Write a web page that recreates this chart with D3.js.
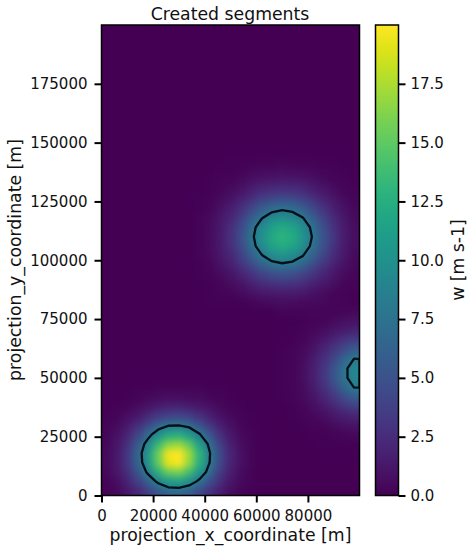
<!DOCTYPE html>
<html>
<head>
<meta charset="utf-8">
<script src="https://cdn.jsdelivr.net/npm/d3@7/dist/d3.min.js"></script>
<style>
  html, body { margin: 0; background: #fff; }
  text { font-family: "DejaVu Sans", sans-serif; fill: #111; }
</style>
</head>
<body>
<svg id="chart" width="474" height="552"></svg>
<script>
// cell centres of the w field, in metres
var xCells = [2000,6000,10000,14000,18000,22000,26000,30000,34000,38000,42000,46000,50000,54000,58000,62000,66000,70000,74000,78000,82000,86000,90000,94000,98000];
var yCells = [2000,6000,10000,14000,18000,22000,26000,30000,34000,38000,42000,46000,50000,54000,58000,62000,66000,70000,74000,78000,82000,86000,90000,94000,98000,102000,106000,110000,114000,118000,122000,126000,130000,134000,138000,142000];

// w [m s-1], one row per yCells entry, above these it is 0
var wRows = [
  [.2,.4,1.1,2.1,3.6,5.2,6.4,6.6,5.8,4.3,2.7,1.5,.7,.3,.1,0,0,0,0,0,0,0,0,0,0],
  [.3,.7,1.8,3.6,6.0,8.7,10.7,11.1,9.7,7.3,4.6,2.5,1.1,.4,.2,0,0,0,0,0,0,0,0,0,0],
  [.4,1.1,2.5,5.1,8.6,12.5,15.3,15.8,13.9,10.4,6.6,3.5,1.6,.6,.2,0,0,0,0,0,0,0,0,0,0],
  [.5,1.3,3.1,6.1,10.4,15.1,19.2,19.9,16.8,12.6,7.9,4.3,1.9,.8,.3,0,0,0,0,0,0,0,0,0,0],
  [.5,1.3,3.1,6.3,10.7,15.4,19.6,20.0,17.2,12.9,8.1,4.4,2.0,.8,.3,0,0,0,0,0,0,0,0,0,0],
  [.4,1.1,2.7,5.5,9.3,13.4,16.4,17.0,15.0,11.2,7.1,3.8,1.7,.7,.3,0,0,0,0,0,0,.1,.1,.1,.1],
  [.3,.8,2.0,4.0,6.8,9.9,12.1,12.6,11.0,8.2,5.2,2.8,1.3,.5,.2,0,0,0,0,0,.1,.1,.2,.3,.4],
  [.2,.5,1.3,2.5,4.3,6.2,7.6,7.8,6.9,5.1,3.2,1.7,.8,.3,.1,0,0,0,0,.1,.2,.3,.6,.8,1.0],
  [.1,.3,.7,1.3,2.3,3.3,4.0,4.2,3.7,2.7,1.7,.9,.4,.2,.1,0,0,0,.1,.2,.4,.7,1.2,1.6,2.0],
  [0,.1,.3,.6,1.0,1.5,1.8,1.9,1.6,1.2,.8,.4,.2,.1,0,0,0,0,.1,.3,.7,1.3,2.1,3.0,3.6],
  [0,0,.1,.2,.4,.6,.7,.7,.6,.5,.3,.2,.1,0,0,0,0,.1,.2,.5,1.0,2.0,3.2,4.6,5.8],
  [0,0,0,.1,.1,.2,.2,.2,.2,.2,.1,.1,0,0,0,0,0,.1,.3,.6,1.4,2.6,4.3,6.4,8.1],
  [0,0,0,0,0,0,0,0,0,0,0,0,0,0,0,0,0,.1,.3,.7,1.6,3.0,5.2,7.4,9.2],
  [0,0,0,0,0,0,0,0,0,0,0,0,0,0,0,0,0,.1,.3,.7,1.6,3.0,5.2,7.4,9.2],
  [0,0,0,0,0,0,0,0,0,0,0,0,0,0,0,0,0,.1,.3,.6,1.4,2.6,4.3,6.4,8.1],
  [0,0,0,0,0,0,0,0,0,0,0,0,0,0,0,0,0,.1,.2,.5,1.0,2.0,3.2,4.6,5.8],
  [0,0,0,0,0,0,0,0,0,0,0,0,0,0,0,0,0,0,.1,.3,.7,1.3,2.1,3.0,3.6],
  [0,0,0,0,0,0,0,0,0,0,0,0,0,0,0,0,0,0,.1,.2,.4,.7,1.2,1.6,2.0],
  [0,0,0,0,0,0,0,0,0,0,0,0,0,0,0,0,0,0,0,.1,.2,.3,.6,.8,1.0],
  [0,0,0,0,0,0,0,0,0,0,0,0,0,0,0,0,0,.3,.2,.2,.3,.2,.3,.3,.4],
  [0,0,0,0,0,0,0,0,0,0,.1,.1,.1,.1,.2,.4,.5,.7,.6,.5,.4,.4,.3,.2,.1],
  [0,0,0,0,0,0,0,0,0,0,.1,.2,.3,.5,.8,1.1,1.3,1.4,1.4,1.2,.9,.6,.3,.2,.1],
  [0,0,0,0,0,0,0,0,0,0,.1,.3,.6,1.0,1.6,2.2,2.6,2.8,2.7,2.3,1.7,1.1,.7,.3,.2],
  [0,0,0,0,0,0,0,0,0,.1,.2,.5,1.0,1.8,2.7,3.8,4.5,4.9,4.6,3.9,2.9,1.9,1.1,.6,.3],
  [0,0,0,0,0,0,0,0,0,.1,.3,.8,1.6,2.7,4.2,5.8,7.0,7.5,7.1,6.0,4.4,2.9,1.7,.9,.4],
  [0,0,0,0,0,0,0,0,0,.2,.5,1.1,2.1,3.7,5.7,7.8,9.5,10.2,9.6,8.1,6.0,4.0,2.3,1.2,.5],
  [0,0,0,0,0,0,0,0,0,.2,.6,1.3,2.5,4.4,6.9,9.4,11.4,12.2,11.6,9.8,7.2,4.8,2.8,1.4,.7],
  [0,0,0,0,0,0,0,0,0,.2,.6,1.4,2.7,4.7,7.3,10.0,12.1,13.0,12.3,10.4,7.7,5.1,3.0,1.5,.7],
  [0,0,0,0,0,0,0,0,0,.2,.6,1.3,2.5,4.4,6.9,9.4,11.4,12.2,11.6,9.8,7.2,4.8,2.8,1.4,.7],
  [0,0,0,0,0,0,0,0,0,.2,.5,1.1,2.1,3.7,5.7,7.8,9.5,10.2,9.6,8.1,6.0,4.0,2.3,1.2,.5],
  [0,0,0,0,0,0,0,0,0,.1,.3,.8,1.6,2.7,4.2,5.8,7.0,7.5,7.1,6.0,4.4,2.9,1.7,.9,.4],
  [0,0,0,0,0,0,0,0,0,.1,.2,.5,1.0,1.8,2.7,3.8,4.5,4.9,4.6,3.9,2.9,1.9,1.1,.6,.3],
  [0,0,0,0,0,0,0,0,0,0,.1,.3,.6,1.0,1.6,2.2,2.6,2.8,2.7,2.3,1.7,1.1,.7,.3,.2],
  [0,0,0,0,0,0,0,0,0,0,.1,.2,.3,.5,.8,1.1,1.3,1.4,1.4,1.2,.9,.6,.3,.2,.1],
  [0,0,0,0,0,0,0,0,0,0,0,.1,.1,.2,.4,.5,.6,.7,.6,.5,.4,.3,.2,.1,0],
  [0,0,0,0,0,0,0,0,0,0,0,0,.1,.1,.1,.2,.2,.3,.2,.2,.2,.1,.1,0,0]
];

var segmentThreshold = [8];
var xTicks = [0, 20000, 40000, 60000, 80000];
var yTicks = [0, 25000, 50000, 75000, 100000, 125000, 150000, 175000];
var wTicks = [0, 2.5, 5, 7.5, 10, 12.5, 15, 17.5];

var left = 101.5, right = 359.5, top_ = 25, bottom = 495.5;
var barLeft = 375.5, barRight = 398.5;
var cell = 4000;

var x = d3.scaleLinear().domain([0, 100000]).range([left, right]);
var y = d3.scaleLinear().domain([0, 200000]).range([bottom, top_]);
var w = d3.scaleLinear().domain([0, 20]).range([bottom, top_]);
var color = d3.scaleSequential(d3.interpolateViridis).domain([0, 20]);

var svg = d3.select('#chart');
var defs = svg.append('defs');

defs.append('clipPath').attr('id', 'plotClip').append('rect')
  .attr('x', left).attr('y', top_)
  .attr('width', right - left).attr('height', bottom - top_);

var blur = defs.append('filter').attr('id', 'soften')
  .attr('filterUnits', 'userSpaceOnUse')
  .attr('x', 0).attr('y', 0).attr('width', 474).attr('height', 552)
  .attr('color-interpolation-filters', 'sRGB');
blur.append('feGaussianBlur').attr('stdDeviation', 3.5);

var grad = defs.append('linearGradient').attr('id', 'viridisBar')
  .attr('x1', 0).attr('y1', 1).attr('x2', 0).attr('y2', 0);
grad.selectAll('stop')
  .data(d3.range(0, 1.001, 0.05))
  .enter().append('stop')
  .attr('offset', d => d)
  .attr('stop-color', d => d3.interpolateViridis(d));

// field
var plot = svg.append('g').attr('clip-path', 'url(#plotClip)');
plot.append('rect')
  .attr('x', left).attr('y', top_)
  .attr('width', right - left).attr('height', bottom - top_)
  .attr('fill', color(0));

var cells = [];
wRows.forEach(function(row, j) {
  row.forEach(function(v, i) {
    cells.push({i: i, j: j, v: v});
  });
});

// edge cells run on past the frame so the blur does not fade at the border
var pad = 20;
plot.append('g').attr('filter', 'url(#soften)')
  .selectAll('rect')
  .data(cells.filter(d => d.v > 0))
  .enter().append('rect')
  .attr('x', d => x(xCells[d.i] - cell / 2) - (d.i === 0 ? pad : 0))
  .attr('y', d => y(yCells[d.j] + cell / 2))
  .attr('width', d => x(cell) - x(0) + (d.i === 0 || d.i === xCells.length - 1 ? pad : 0) + 0.5)
  .attr('height', d => y(0) - y(cell) + (d.j === 0 ? pad : 0) + 0.5)
  .attr('fill', d => color(d.v))
  .attr('shape-rendering', 'crispEdges');

// segment outlines
var contours = d3.contours()
  .size([xCells.length, yCells.length])
  .thresholds(segmentThreshold)(d3.merge(wRows));

var path = d3.geoPath(d3.geoTransform({
  point: function(gx, gy) {
    this.stream.point(x(gx * cell), y(gy * cell));
  }
}));

plot.selectAll('path')
  .data(contours)
  .enter().append('path')
  .attr('d', path)
  .attr('fill', 'none')
  .attr('stroke', '#03101a')
  .attr('stroke-width', 2.3);

// frames
svg.append('rect')
  .attr('x', left).attr('y', top_)
  .attr('width', right - left).attr('height', bottom - top_)
  .attr('fill', 'none').attr('stroke', '#000').attr('stroke-width', 1.5);

svg.append('rect')
  .attr('x', barLeft).attr('y', top_)
  .attr('width', barRight - barLeft).attr('height', bottom - top_)
  .attr('fill', 'url(#viridisBar)').attr('stroke', '#000').attr('stroke-width', 1.5);

// axes
var xAxis = d3.axisBottom(x).tickValues(xTicks).tickFormat(d3.format('d')).tickSize(7).tickPadding(8);
var yAxis = d3.axisLeft(y).tickValues(yTicks).tickFormat(d3.format('d')).tickSize(7).tickPadding(7);
var wAxis = d3.axisRight(w).tickValues(wTicks).tickFormat(d3.format('.1f')).tickSize(7).tickPadding(5);

function styleAxis(g) {
  g.select('.domain').remove();
  g.selectAll('line').attr('stroke', '#000').attr('stroke-width', 2);
  g.selectAll('text').attr('font-size', 15).attr('font-family', '"DejaVu Sans"').attr('fill', '#111');
}

svg.append('g').attr('transform', `translate(0, ${bottom})`).call(xAxis).call(styleAxis);
svg.append('g').attr('transform', `translate(${left}, 0)`).call(yAxis).call(styleAxis);
svg.append('g').attr('transform', `translate(${barRight}, 0)`).call(wAxis).call(styleAxis);

// labels
svg.append('text').attr('x', 230).attr('y', 20)
  .attr('text-anchor', 'middle').attr('font-size', 17.3).text('Created segments');

svg.append('text').attr('x', 230.5).attr('y', 541)
  .attr('text-anchor', 'middle').attr('font-size', 17.3).text('projection_x_coordinate [m]');

svg.append('text')
  .attr('transform', 'translate(21, 260) rotate(-90)')
  .attr('text-anchor', 'middle').attr('font-size', 17.3).text('projection_y_coordinate [m]');

svg.append('text')
  .attr('transform', 'translate(464, 260) rotate(-90)')
  .attr('text-anchor', 'middle').attr('font-size', 17.3).text('w [m s-1]');
</script>
</body>
</html>
